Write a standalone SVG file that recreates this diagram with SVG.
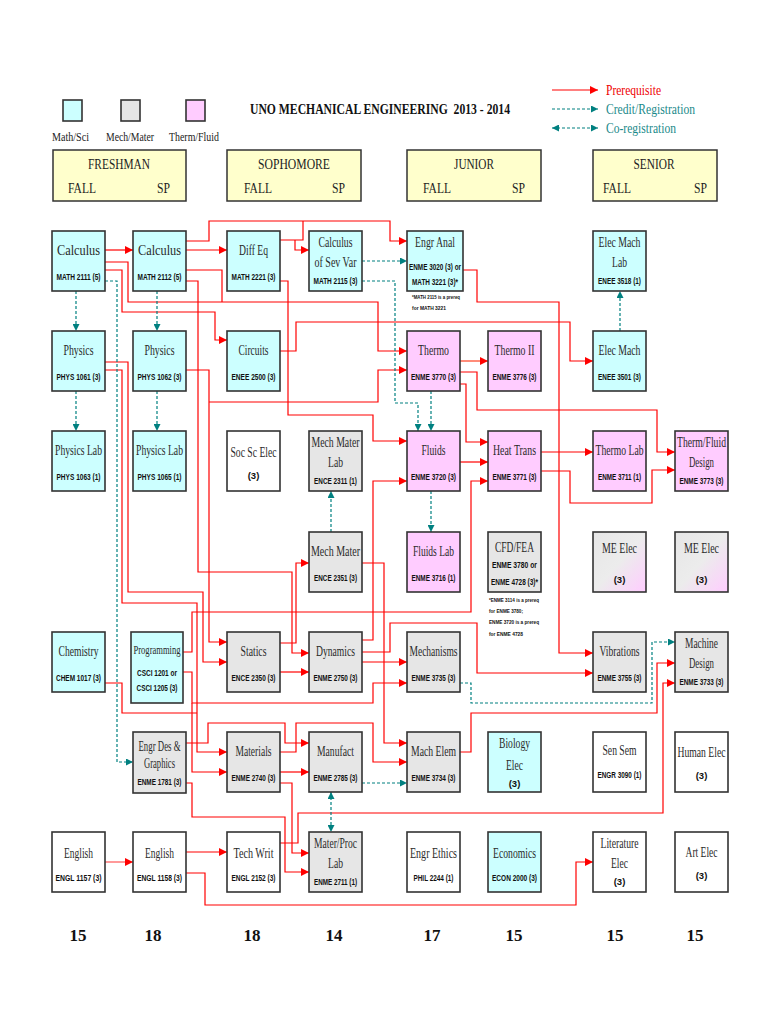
<svg xmlns="http://www.w3.org/2000/svg" width="768" height="1024" viewBox="0 0 768 1024">
<defs>
<style>
.n{stroke:#333;stroke-width:1.6}
.cy{fill:#ccffff}.gr{fill:#e6e6e6}.pk{fill:#ffccff}.wh{fill:#fff}.me{fill:url(#meg)}
.hd{fill:#ffffcc;stroke:#333;stroke-width:1.5}
.t{font-family:"Liberation Serif",serif;font-size:14.5px;fill:#2a2a2a;text-anchor:middle}
.c{font-family:"Liberation Sans Narrow","Liberation Sans",sans-serif;font-weight:bold;font-size:9.5px;fill:#111;text-anchor:middle}
.fn{font-family:"Liberation Sans Narrow","Liberation Sans",sans-serif;font-weight:bold;font-size:5.5px;fill:#111}
.h{font-family:"Liberation Serif",serif;font-size:15px;fill:#222}
.tot{font-family:"Liberation Serif",serif;font-weight:bold;font-size:17px;fill:#111;text-anchor:middle}
.lg{font-family:"Liberation Serif",serif;font-size:12px;fill:#222}
.r{fill:none;stroke:#f00;stroke-width:1.2;marker-end:url(#ar)}
.rl{fill:none;stroke:#f00;stroke-width:1.2}
.d{fill:none;stroke:#008080;stroke-width:1.2;stroke-dasharray:3 2;marker-end:url(#at)}
</style>
<linearGradient id="meg" x1="0" y1="0" x2="1" y2="1"><stop offset="0" stop-color="#e6e6e6"/><stop offset="0.5" stop-color="#ececec"/><stop offset="1" stop-color="#ffccff"/></linearGradient>
<marker id="ar" viewBox="0 0 10 10" refX="10" refY="5" markerWidth="8" markerHeight="8" markerUnits="userSpaceOnUse" orient="auto"><path d="M0,0 L10,5 L0,10 z" fill="#f00"/></marker>
<marker id="at" viewBox="0 0 10 10" refX="10" refY="5" markerWidth="7" markerHeight="7" markerUnits="userSpaceOnUse" orient="auto-start-reverse"><path d="M0,0 L10,5 L0,10 z" fill="#008080"/></marker>
</defs>
<rect width="768" height="1024" fill="#fff"/>

<g id="legend">
<rect x="63" y="100" width="19" height="21" class="n cy"/>
<rect x="121" y="100" width="19" height="21" class="n gr"/>
<rect x="186" y="100" width="19" height="21" class="n pk"/>
<text x="52" y="141" class="lg" textLength="37" lengthAdjust="spacingAndGlyphs">Math/Sci</text>
<text x="106" y="141" class="lg" textLength="48" lengthAdjust="spacingAndGlyphs">Mech/Mater</text>
<text x="169" y="141" class="lg" textLength="50" lengthAdjust="spacingAndGlyphs">Therm/Fluid</text>
<text x="250" y="114" style="font-family:'Liberation Serif',serif;font-weight:bold;font-size:14px;fill:#111" textLength="260" lengthAdjust="spacingAndGlyphs">UNO MECHANICAL ENGINEERING&#160; 2013 - 2014</text>
<path d="M552,90 H598" class="r"/>
<path d="M552,109 H598" class="d"/>
<path d="M552,128 H598" class="d" style="marker-start:url(#at)"/>
<text x="606" y="95" style="font-family:'Liberation Serif',serif;font-size:14px;fill:#e00" textLength="55" lengthAdjust="spacingAndGlyphs">Prerequisite</text>
<text x="606" y="114" style="font-family:'Liberation Serif',serif;font-size:14px;fill:#1a8a8a" textLength="89" lengthAdjust="spacingAndGlyphs">Credit/Registration</text>
<text x="606" y="133" style="font-family:'Liberation Serif',serif;font-size:14px;fill:#1a8a8a" textLength="70" lengthAdjust="spacingAndGlyphs">Co-registration</text>
</g>

<g id="headers">
<rect x="53" y="150" width="133" height="51" class="hd"/>
<text x="119" y="169" class="h" text-anchor="middle" textLength="62" lengthAdjust="spacingAndGlyphs">FRESHMAN</text>
<text x="68" y="193" class="h" textLength="28" lengthAdjust="spacingAndGlyphs">FALL</text>
<text x="157" y="193" class="h" textLength="13" lengthAdjust="spacingAndGlyphs">SP</text>
<rect x="227" y="150" width="134" height="51" class="hd"/>
<text x="294" y="169" class="h" text-anchor="middle" textLength="72" lengthAdjust="spacingAndGlyphs">SOPHOMORE</text>
<text x="244" y="193" class="h" textLength="28" lengthAdjust="spacingAndGlyphs">FALL</text>
<text x="332" y="193" class="h" textLength="13" lengthAdjust="spacingAndGlyphs">SP</text>
<rect x="407" y="150" width="134" height="51" class="hd"/>
<text x="474" y="169" class="h" text-anchor="middle" textLength="40" lengthAdjust="spacingAndGlyphs">JUNIOR</text>
<text x="423" y="193" class="h" textLength="28" lengthAdjust="spacingAndGlyphs">FALL</text>
<text x="512" y="193" class="h" textLength="13" lengthAdjust="spacingAndGlyphs">SP</text>
<rect x="593" y="150" width="124" height="51" class="hd"/>
<text x="654" y="169" class="h" text-anchor="middle" textLength="41" lengthAdjust="spacingAndGlyphs">SENIOR</text>
<text x="603" y="193" class="h" textLength="28" lengthAdjust="spacingAndGlyphs">FALL</text>
<text x="694" y="193" class="h" textLength="13" lengthAdjust="spacingAndGlyphs">SP</text>
</g>

<g id="connectors">
<path d="M105,250 H133" class="r"/>
<path d="M186,250 H227" class="r"/>
<path d="M186,241 H209 V221 H390 V241 H407" class="r"/>
<path d="M280,240 H303 V221" class="rl"/>
<path d="M295,240 V250 H309" class="r"/>
<path d="M105,270 H122 V312 H215 V340 H227" class="r"/>
<path d="M105,262 H128 V302 H378 V351 H407" class="r"/>
<path d="M186,270 H222 V302" class="rl"/>
<path d="M186,370 H209 V642 H227" class="r"/>
<path d="M209,402 H378 V370 H407" class="r"/>
<path d="M280,351 H296 V322 H570 V361 H593" class="r"/>
<path d="M460,361 H488" class="r" style="stroke:#ff4020"/>
<path d="M463,270 H477 V302 H559 V653 H593" class="r"/>
<path d="M280,281 H288 V415 H373 V441 H407" class="r"/>
<path d="M460,372 H477 V410 H657 V452 H675" class="r"/>
<path d="M460,384 H466 V442 H488" class="r"/>
<path d="M460,462 H488" class="r"/>
<path d="M541,452 H593" class="r"/>
<path d="M541,471 H570 V503 H652 V470 H675" class="r"/>
<path d="M105,362 H128 V592 H203 V662 H227" class="r"/>
<path d="M105,370 H122 V603 H197 V752 H227" class="r"/>
<path d="M105,683 H122 V713 H197" class="rl"/>
<path d="M186,281 H198 V572 H292 V653 H309" class="r"/>
<path d="M183,652 H192 V612 H471 V481 H488" class="r"/>
<path d="M183,672 H192 V703 H373 V683 H407" class="r"/>
<path d="M192,703 V772 H227" class="r"/>
<path d="M280,643 H296 V563 H309" class="r"/>
<path d="M280,672 H309" class="r"/>
<path d="M362,563 H384 V743 H407" class="r"/>
<path d="M362,640 H373 V481 H407" class="r"/>
<path d="M362,662 H407" class="r"/>
<path d="M362,652 H390 V623 H477 V673 H593" class="r"/>
<path d="M186,743 H208 V723 H285 V743 H309" class="r"/>
<path d="M280,752 H296 V723 H373 V762 H407" class="r"/>
<path d="M280,772 H309" class="r"/>
<path d="M280,783 H292 V853 H309" class="r"/>
<path d="M186,783 H192 V817 H285 V872 H309" class="r"/>
<path d="M460,752 H471 V713 H657 V663 H675" class="r"/>
<path d="M280,843 H298 V813 H663 V683 H675" class="r"/>
<path d="M105,862 H133" class="r" style="stroke:#f55"/>
<path d="M186,852 H227" class="r"/>
<path d="M186,873 H205 V905 H576 V862 H593" class="r"/>
<path d="M76,291 V331" class="d"/>
<path d="M157,291 V331" class="d"/>
<path d="M76,391 V431" class="d"/>
<path d="M157,391 V431" class="d"/>
<path d="M620,331 V291" class="d"/>
<path d="M331,532 V491" class="d"/>
<path d="M431,491 V532" class="d"/>
<path d="M431,391 V431" class="d"/>
<path d="M362,261 H407" class="d"/>
<path d="M362,281 H395 V403 H418 V431" class="d"/>
<path d="M105,281 H117 V762 H133" class="d"/>
<path d="M362,783 H407" class="d"/>
<path d="M331,792 V832" class="d" style="marker-start:url(#at)"/>
<path d="M460,683 H471 V703 H652 V642 H675" class="d"/>
</g>

<g id="calc1"><rect x="52" y="231" width="53" height="60" class="n cy"/><text x="78.5" y="255" class="t" textLength="43" lengthAdjust="spacingAndGlyphs">Calculus</text><text x="78.5" y="280" class="c" textLength="44" lengthAdjust="spacingAndGlyphs">MATH 2111 (5)</text></g>
<g id="phys1"><rect x="52" y="331" width="53" height="60" class="n cy"/><text x="78.5" y="355" class="t" textLength="30" lengthAdjust="spacingAndGlyphs">Physics</text><text x="78.5" y="380" class="c" textLength="44" lengthAdjust="spacingAndGlyphs">PHYS 1061 (3)</text></g>
<g id="physlab1"><rect x="52" y="431" width="53" height="60" class="n cy"/><text x="78.5" y="455" class="t" textLength="47" lengthAdjust="spacingAndGlyphs">Physics Lab</text><text x="78.5" y="480" class="c" textLength="44" lengthAdjust="spacingAndGlyphs">PHYS 1063 (1)</text></g>
<g id="chem"><rect x="52" y="632" width="53" height="60" class="n cy"/><text x="78.5" y="656" class="t" textLength="40" lengthAdjust="spacingAndGlyphs">Chemistry</text><text x="78.5" y="681" class="c" textLength="45" lengthAdjust="spacingAndGlyphs">CHEM 1017 (3)</text></g>
<g id="eng1"><rect x="52" y="832" width="53" height="60" class="n wh"/><text x="78.5" y="858" class="t" textLength="29" lengthAdjust="spacingAndGlyphs">English</text><text x="78.5" y="881" class="c" textLength="46" lengthAdjust="spacingAndGlyphs">ENGL 1157 (3)</text></g>

<g id="calc2"><rect x="133" y="231" width="53" height="60" class="n cy"/><text x="159.5" y="255" class="t" textLength="43" lengthAdjust="spacingAndGlyphs">Calculus</text><text x="159.5" y="280" class="c" textLength="44" lengthAdjust="spacingAndGlyphs">MATH 2112 (5)</text></g>
<g id="phys2"><rect x="133" y="331" width="53" height="60" class="n cy"/><text x="159.5" y="355" class="t" textLength="30" lengthAdjust="spacingAndGlyphs">Physics</text><text x="159.5" y="380" class="c" textLength="44" lengthAdjust="spacingAndGlyphs">PHYS 1062 (3)</text></g>
<g id="physlab2"><rect x="133" y="431" width="53" height="60" class="n cy"/><text x="159.5" y="455" class="t" textLength="47" lengthAdjust="spacingAndGlyphs">Physics Lab</text><text x="159.5" y="480" class="c" textLength="44" lengthAdjust="spacingAndGlyphs">PHYS 1065 (1)</text></g>
<g id="prog"><rect x="131" y="632" width="52" height="71" class="n cy"/><text x="157" y="654" class="t" style="font-size:12.5px" textLength="47" lengthAdjust="spacingAndGlyphs">Programming</text><text x="157" y="676" class="c" textLength="40" lengthAdjust="spacingAndGlyphs">CSCI 1201 or</text><text x="157" y="691" class="c" textLength="41" lengthAdjust="spacingAndGlyphs">CSCI 1205 (3)</text></g>
<g id="engrdes"><rect x="133" y="732" width="53" height="61" class="n gr"/><text x="159.5" y="751" class="t" textLength="42" lengthAdjust="spacingAndGlyphs">Engr Des &amp;</text><text x="159.5" y="768" class="t" textLength="31" lengthAdjust="spacingAndGlyphs">Graphics</text><text x="159.5" y="785" class="c" textLength="44" lengthAdjust="spacingAndGlyphs">ENME 1781 (3)</text></g>
<g id="eng2"><rect x="133" y="832" width="53" height="60" class="n wh"/><text x="159.5" y="858" class="t" textLength="29" lengthAdjust="spacingAndGlyphs">English</text><text x="159.5" y="881" class="c" textLength="45" lengthAdjust="spacingAndGlyphs">ENGL 1158 (3)</text></g>

<g id="diffeq"><rect x="227" y="231" width="53" height="60" class="n cy"/><text x="253.5" y="255" class="t" textLength="29" lengthAdjust="spacingAndGlyphs">Diff Eq</text><text x="253.5" y="280" class="c" textLength="44" lengthAdjust="spacingAndGlyphs">MATH 2221 (3)</text></g>
<g id="circuits"><rect x="227" y="331" width="53" height="60" class="n cy"/><text x="253.5" y="355" class="t" textLength="30" lengthAdjust="spacingAndGlyphs">Circuits</text><text x="253.5" y="380" class="c" textLength="44" lengthAdjust="spacingAndGlyphs">ENEE 2500 (3)</text></g>
<g id="socsc"><rect x="227" y="431" width="53" height="60" class="n wh"/><text x="253.5" y="457" class="t" textLength="46" lengthAdjust="spacingAndGlyphs">Soc Sc Elec</text><text x="253.5" y="479" class="c">(3)</text></g>
<g id="statics"><rect x="227" y="632" width="53" height="60" class="n gr"/><text x="253.5" y="656" class="t" textLength="26" lengthAdjust="spacingAndGlyphs">Statics</text><text x="253.5" y="681" class="c" textLength="44" lengthAdjust="spacingAndGlyphs">ENCE 2350 (3)</text></g>
<g id="materials"><rect x="227" y="732" width="53" height="60" class="n gr"/><text x="253.5" y="756" class="t" textLength="36" lengthAdjust="spacingAndGlyphs">Materials</text><text x="253.5" y="781" class="c" textLength="44" lengthAdjust="spacingAndGlyphs">ENME 2740 (3)</text></g>
<g id="techwrit"><rect x="227" y="832" width="53" height="60" class="n wh"/><text x="253.5" y="858" class="t" textLength="40" lengthAdjust="spacingAndGlyphs">Tech Writ</text><text x="253.5" y="881" class="c" textLength="44" lengthAdjust="spacingAndGlyphs">ENGL 2152 (3)</text></g>

<g id="calcsv"><rect x="309" y="231" width="53" height="60" class="n cy"/><text x="335.5" y="247" class="t" textLength="34" lengthAdjust="spacingAndGlyphs">Calculus</text><text x="335.5" y="267" class="t" textLength="42" lengthAdjust="spacingAndGlyphs">of Sev Var</text><text x="335.5" y="284" class="c" textLength="44" lengthAdjust="spacingAndGlyphs">MATH 2115 (3)</text></g>
<g id="mmlab"><rect x="309" y="431" width="53" height="60" class="n gr"/><text x="335.5" y="447" class="t" textLength="48" lengthAdjust="spacingAndGlyphs">Mech Mater</text><text x="335.5" y="467" class="t" textLength="15" lengthAdjust="spacingAndGlyphs">Lab</text><text x="335.5" y="484" class="c" textLength="43" lengthAdjust="spacingAndGlyphs">ENCE 2311 (1)</text></g>
<g id="mechmater"><rect x="309" y="532" width="53" height="60" class="n gr"/><text x="335.5" y="556" class="t" textLength="49" lengthAdjust="spacingAndGlyphs">Mech Mater</text><text x="335.5" y="581" class="c" textLength="43" lengthAdjust="spacingAndGlyphs">ENCE 2351 (3)</text></g>
<g id="dynamics"><rect x="309" y="632" width="53" height="60" class="n gr"/><text x="335.5" y="656" class="t" textLength="39" lengthAdjust="spacingAndGlyphs">Dynamics</text><text x="335.5" y="681" class="c" textLength="44" lengthAdjust="spacingAndGlyphs">ENME 2750 (3)</text></g>
<g id="manufact"><rect x="309" y="732" width="53" height="60" class="n gr"/><text x="335.5" y="756" class="t" textLength="37" lengthAdjust="spacingAndGlyphs">Manufact</text><text x="335.5" y="781" class="c" textLength="44" lengthAdjust="spacingAndGlyphs">ENME 2785 (3)</text></g>
<g id="materproc"><rect x="309" y="832" width="53" height="60" class="n gr"/><text x="335.5" y="848" class="t" textLength="43" lengthAdjust="spacingAndGlyphs">Mater/Proc</text><text x="335.5" y="868" class="t" textLength="15" lengthAdjust="spacingAndGlyphs">Lab</text><text x="335.5" y="885" class="c" textLength="43" lengthAdjust="spacingAndGlyphs">ENME 2711 (1)</text></g>

<g id="engranal"><rect x="407" y="231" width="56" height="60" class="n cy"/><text x="435" y="247" class="t" textLength="40" lengthAdjust="spacingAndGlyphs">Engr Anal</text><text x="435" y="270" class="c" textLength="52" lengthAdjust="spacingAndGlyphs">ENME 3020 (3) or</text><text x="435" y="285" class="c" textLength="46" lengthAdjust="spacingAndGlyphs">MATH 3221 (3)*</text>
<text x="412" y="299" class="fn" textLength="48" lengthAdjust="spacingAndGlyphs">*MATH 2115 is a prereq</text><text x="412" y="310" class="fn" textLength="34" lengthAdjust="spacingAndGlyphs">for MATH 3221</text></g>
<g id="thermo"><rect x="407" y="331" width="53" height="60" class="n pk"/><text x="433.5" y="355" class="t" textLength="31" lengthAdjust="spacingAndGlyphs">Thermo</text><text x="433.5" y="380" class="c" textLength="45" lengthAdjust="spacingAndGlyphs">ENME 3770 (3)</text></g>
<g id="fluids"><rect x="407" y="431" width="53" height="60" class="n pk"/><text x="433.5" y="455" class="t" textLength="24" lengthAdjust="spacingAndGlyphs">Fluids</text><text x="433.5" y="480" class="c" textLength="45" lengthAdjust="spacingAndGlyphs">ENME 3720 (3)</text></g>
<g id="fluidslab"><rect x="407" y="532" width="53" height="60" class="n pk"/><text x="433.5" y="556" class="t" textLength="41" lengthAdjust="spacingAndGlyphs">Fluids Lab</text><text x="433.5" y="581" class="c" textLength="44" lengthAdjust="spacingAndGlyphs">ENME 3716 (1)</text></g>
<g id="mechanisms"><rect x="407" y="632" width="53" height="60" class="n gr"/><text x="433.5" y="656" class="t" textLength="48" lengthAdjust="spacingAndGlyphs">Mechanisms</text><text x="433.5" y="681" class="c" textLength="44" lengthAdjust="spacingAndGlyphs">ENME 3735 (3)</text></g>
<g id="machelem"><rect x="407" y="732" width="53" height="60" class="n gr"/><text x="433.5" y="756" class="t" textLength="45" lengthAdjust="spacingAndGlyphs">Mach Elem</text><text x="433.5" y="781" class="c" textLength="44" lengthAdjust="spacingAndGlyphs">ENME 3734 (3)</text></g>
<g id="ethics"><rect x="407" y="832" width="53" height="60" class="n wh"/><text x="433.5" y="858" class="t" textLength="47" lengthAdjust="spacingAndGlyphs">Engr Ethics</text><text x="433.5" y="881" class="c" textLength="40" lengthAdjust="spacingAndGlyphs">PHIL 2244 (1)</text></g>

<g id="thermo2"><rect x="488" y="331" width="53" height="60" class="n pk"/><text x="514.5" y="355" class="t" textLength="40" lengthAdjust="spacingAndGlyphs">Thermo II</text><text x="514.5" y="380" class="c" textLength="44" lengthAdjust="spacingAndGlyphs">ENME 3776 (3)</text></g>
<g id="heattrans"><rect x="488" y="431" width="53" height="60" class="n pk"/><text x="514.5" y="455" class="t" textLength="43" lengthAdjust="spacingAndGlyphs">Heat Trans</text><text x="514.5" y="480" class="c" textLength="44" lengthAdjust="spacingAndGlyphs">ENME 3771 (3)</text></g>
<g id="cfd"><rect x="488" y="532" width="53" height="60" class="n gr"/><text x="514.5" y="552" class="t" textLength="39" lengthAdjust="spacingAndGlyphs">CFD/FEA</text><text x="514.5" y="568" class="c" textLength="45" lengthAdjust="spacingAndGlyphs">ENME 3780 or</text><text x="514.5" y="585" class="c" textLength="47" lengthAdjust="spacingAndGlyphs">ENME 4728 (3)*</text>
<text x="489" y="602" class="fn" textLength="50" lengthAdjust="spacingAndGlyphs">*ENME 3114 is a prereq</text><text x="489" y="613" class="fn" textLength="34" lengthAdjust="spacingAndGlyphs">for ENME 3780;</text><text x="489" y="624" class="fn" textLength="50" lengthAdjust="spacingAndGlyphs">ENME 3720 is a prereq</text><text x="489" y="636" class="fn" textLength="34" lengthAdjust="spacingAndGlyphs">for ENME 4728</text></g>
<g id="biology"><rect x="488" y="732" width="53" height="60" class="n cy"/><text x="514.5" y="748" class="t" textLength="31" lengthAdjust="spacingAndGlyphs">Biology</text><text x="514.5" y="770" class="t" textLength="17" lengthAdjust="spacingAndGlyphs">Elec</text><text x="514.5" y="787" class="c">(3)</text></g>
<g id="economics"><rect x="488" y="832" width="53" height="60" class="n cy"/><text x="514.5" y="858" class="t" textLength="43" lengthAdjust="spacingAndGlyphs">Economics</text><text x="514.5" y="881" class="c" textLength="45" lengthAdjust="spacingAndGlyphs">ECON 2000 (3)</text></g>

<g id="emlab"><rect x="593" y="231" width="53" height="60" class="n cy"/><text x="619.5" y="247" class="t" textLength="42" lengthAdjust="spacingAndGlyphs">Elec Mach</text><text x="619.5" y="267" class="t" textLength="15" lengthAdjust="spacingAndGlyphs">Lab</text><text x="619.5" y="284" class="c" textLength="43" lengthAdjust="spacingAndGlyphs">ENEE 3518 (1)</text></g>
<g id="elecmach"><rect x="593" y="331" width="53" height="60" class="n cy"/><text x="619.5" y="355" class="t" textLength="42" lengthAdjust="spacingAndGlyphs">Elec Mach</text><text x="619.5" y="380" class="c" textLength="43" lengthAdjust="spacingAndGlyphs">ENEE 3501 (3)</text></g>
<g id="thermolab"><rect x="593" y="431" width="53" height="60" class="n pk"/><text x="619.5" y="455" class="t" textLength="48" lengthAdjust="spacingAndGlyphs">Thermo Lab</text><text x="619.5" y="480" class="c" textLength="43" lengthAdjust="spacingAndGlyphs">ENME 3711 (1)</text></g>
<g id="meelec1"><rect x="593" y="532" width="53" height="60" class="n me"/><text x="619.5" y="553" class="t" textLength="35" lengthAdjust="spacingAndGlyphs">ME Elec</text><text x="619.5" y="583" class="c">(3)</text></g>
<g id="vibrations"><rect x="593" y="632" width="53" height="60" class="n gr"/><text x="619.5" y="656" class="t" textLength="40" lengthAdjust="spacingAndGlyphs">Vibrations</text><text x="619.5" y="681" class="c" textLength="44" lengthAdjust="spacingAndGlyphs">ENME 3755 (3)</text></g>
<g id="sensem"><rect x="593" y="732" width="53" height="60" class="n wh"/><text x="619.5" y="755" class="t" textLength="34" lengthAdjust="spacingAndGlyphs">Sen Sem</text><text x="619.5" y="778" class="c" textLength="44" lengthAdjust="spacingAndGlyphs">ENGR 3090 (1)</text></g>
<g id="literature"><rect x="593" y="832" width="53" height="60" class="n wh"/><text x="619.5" y="848" class="t" textLength="38" lengthAdjust="spacingAndGlyphs">Literature</text><text x="619.5" y="868" class="t" textLength="17" lengthAdjust="spacingAndGlyphs">Elec</text><text x="619.5" y="885" class="c">(3)</text></g>

<g id="tfdesign"><rect x="675" y="431" width="53" height="60" class="n pk"/><text x="701.5" y="447" class="t" textLength="49" lengthAdjust="spacingAndGlyphs">Therm/Fluid</text><text x="701.5" y="467" class="t" textLength="25" lengthAdjust="spacingAndGlyphs">Design</text><text x="701.5" y="484" class="c" textLength="44" lengthAdjust="spacingAndGlyphs">ENME 3773 (3)</text></g>
<g id="meelec2"><rect x="675" y="532" width="53" height="60" class="n me"/><text x="701.5" y="553" class="t" textLength="35" lengthAdjust="spacingAndGlyphs">ME Elec</text><text x="701.5" y="583" class="c">(3)</text></g>
<g id="machdesign"><rect x="675" y="632" width="53" height="60" class="n gr"/><text x="701.5" y="648" class="t" textLength="33" lengthAdjust="spacingAndGlyphs">Machine</text><text x="701.5" y="668" class="t" textLength="25" lengthAdjust="spacingAndGlyphs">Design</text><text x="701.5" y="685" class="c" textLength="44" lengthAdjust="spacingAndGlyphs">ENME 3733 (3)</text></g>
<g id="humanelec"><rect x="675" y="732" width="53" height="60" class="n wh"/><text x="701.5" y="757" class="t" textLength="48" lengthAdjust="spacingAndGlyphs">Human Elec</text><text x="701.5" y="779" class="c">(3)</text></g>
<g id="artelec"><rect x="675" y="832" width="53" height="60" class="n wh"/><text x="701.5" y="857" class="t" textLength="32" lengthAdjust="spacingAndGlyphs">Art Elec</text><text x="701.5" y="879" class="c">(3)</text></g>

<g id="totals">
<text x="78" y="941" class="tot">15</text>
<text x="153" y="941" class="tot">18</text>
<text x="252" y="941" class="tot">18</text>
<text x="334" y="941" class="tot">14</text>
<text x="432" y="941" class="tot">17</text>
<text x="514" y="941" class="tot">15</text>
<text x="615" y="941" class="tot">15</text>
<text x="695" y="941" class="tot">15</text>
</g>
</svg>
